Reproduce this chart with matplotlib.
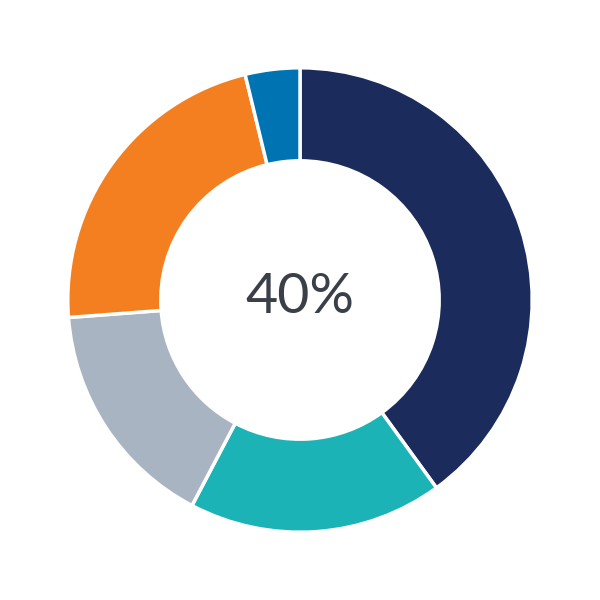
import matplotlib.pyplot as plt

shares = [40, 17.7, 16.1, 22.4, 3.8]
colors = ['#1b2b5b', '#1bb3b6', '#a9b4c2', '#f47f20', '#0073b3']
center_label = '40%'

fig = plt.figure(figsize=(6, 6), dpi=100)
ax = fig.add_axes([0, 0, 1, 1])

ax.pie(shares, colors=colors, startangle=90, counterclock=False,
       radius=0.387 * 2.58,
       wedgeprops=dict(width=0.155 * 2.58, edgecolor='white', linewidth=2.5))
ax.text(0, 0.01, center_label, ha='center', va='center', fontsize=40,
        color='#3a3f48', family=['Lato', 'DejaVu Sans'], fontweight='normal')

ax.set_xlim(-1.29, 1.29)
ax.set_ylim(-1.29, 1.29)
ax.set_aspect('equal')
ax.axis('off')

fig.savefig('out.png', dpi=100, facecolor='white')
